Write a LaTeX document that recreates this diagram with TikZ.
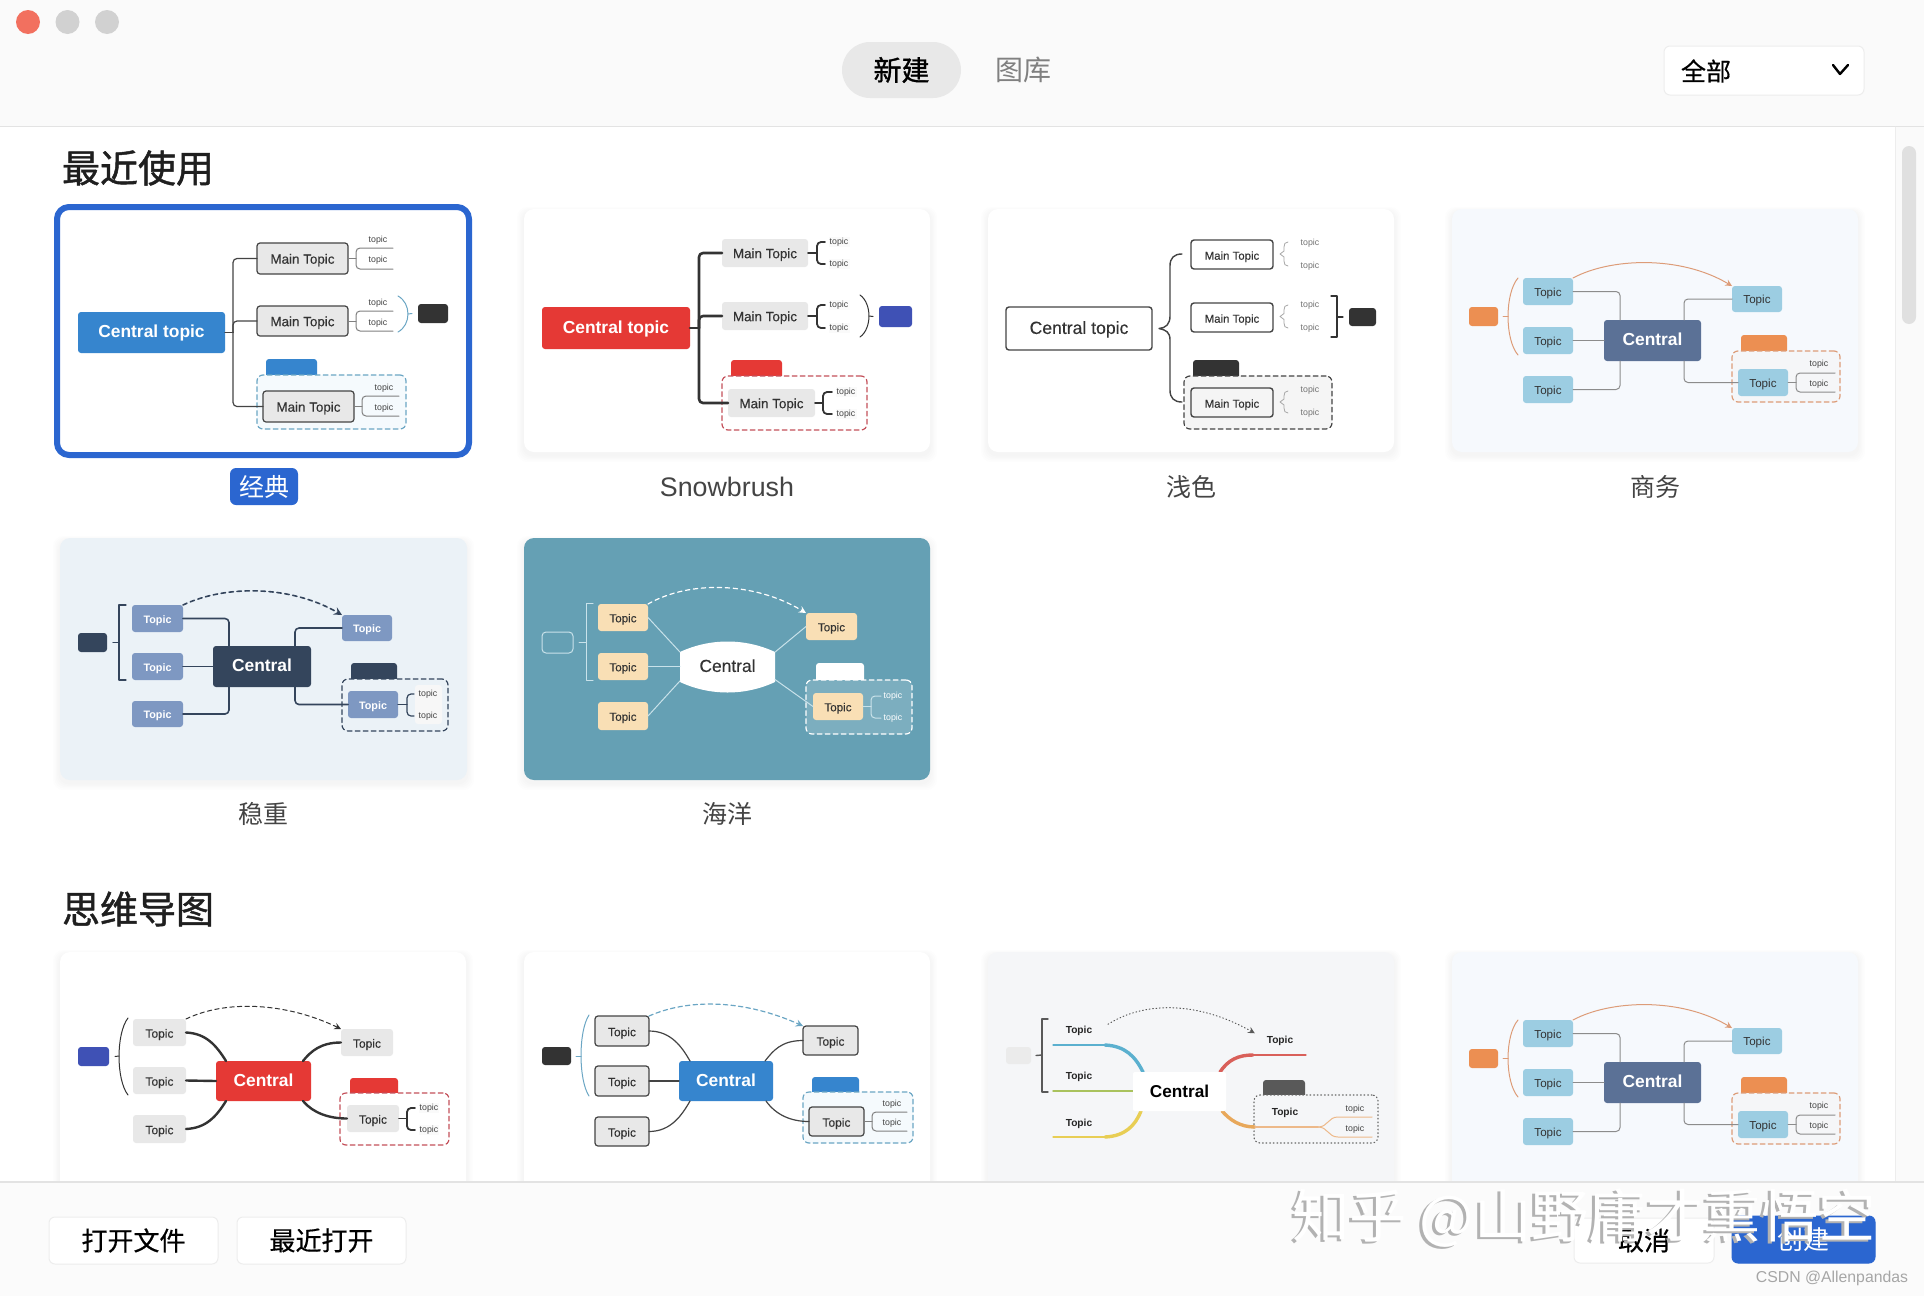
\documentclass[tikz,border=0pt]{standalone}
\usepackage{fontspec}
\setmainfont{Liberation Sans}
\newfontfamily\medf[FakeBold=0.25]{Liberation Sans}
\newfontfamily\cjk{Noto Sans CJK SC}
\newfontfamily\cjkm[FakeBold=0.5]{Noto Sans CJK SC}
\newfontfamily\cjkh[FakeBold=1.2]{Noto Sans CJK SC}
\definecolor{sel}{HTML}{2B66D0}
\definecolor{cblue}{HTML}{3685CE}
\definecolor{cred}{HTML}{E53935}
\definecolor{cind}{HTML}{3F51B5}
\definecolor{cdark}{HTML}{333333}
\definecolor{cnavy}{HTML}{34455C}
\definecolor{cslate}{HTML}{5B7196}
\definecolor{corange}{HTML}{EC8F52}
\definecolor{lorange}{HTML}{DD9C78}
\definecolor{sky}{HTML}{9CCDE2}
\definecolor{peri}{HTML}{7E98C2}
\definecolor{sand}{HTML}{F9DFB5}
\definecolor{sea}{HTML}{65A0B4}
\definecolor{pale}{HTML}{C9E2EA}
\definecolor{grayb}{HTML}{E8E8E8}
\definecolor{lnk}{HTML}{444444}
\definecolor{tealb}{HTML}{6BA6C4}
\definecolor{redb}{HTML}{C4505A}
\definecolor{ice}{HTML}{F5FAFD}
\definecolor{bizbg}{HTML}{F6F9FD}
\definecolor{calm}{HTML}{EBF2F7}
\definecolor{mist}{HTML}{F5F6F8}
\definecolor{wred}{HTML}{F2705F}
\definecolor{brblue}{HTML}{5BB0CF}
\definecolor{brgreen}{HTML}{A9C25D}
\definecolor{bryellow}{HTML}{E8CE55}
\definecolor{brred}{HTML}{D9605A}
\definecolor{brorange}{HTML}{E8A85B}
\definecolor{brthin}{HTML}{EDB98A}
\begin{document}
\begin{tikzpicture}[x=0.5pt,y=-0.5pt,>=stealth,line join=round,line cap=round,
	box/.style={inner sep=0pt,outer sep=0pt,rounded corners=1.5pt},
	ctr/.style={box,text=white,font=\bfseries\fs{8.7},text height=7.4pt,text depth=2pt},
	mtp/.style={box,fill=grayb,text=cdark,font=\medf\fs{6.7},text height=7.2pt,text depth=2pt},
	tpc/.style={box,text=cdark,font=\fs{5.8},text height=6.8pt,text depth=2pt},
	sml/.style={inner sep=0.6pt,outer sep=0pt,text=lnk,font=\fs{4.4}},
	bdy/.style={box,rounded corners=3pt,line width=.6pt,dash pattern=on 2.4pt off 1.6pt},
	lab/.style={text=lnk,font=\cjk\fs{12.5}},
	head/.style={text=black!88,font=\cjkh\fs{19}},
	btn/.style={box,rounded corners=3pt,fill=white,draw=black!7,line width=.5pt}]
	\def\fs#1{\fontsize{#1}{#1}\selectfont}
	% box from its two corners
	\def\bx#1#2#3#4#5#6#7{\pgfmathsetmacro\bw{(#5-#3)*0.5}\pgfmathsetmacro\bh{(#6-#4)*0.5}%
		\node[#1,minimum width=\bw pt,minimum height=\bh pt] (#2) at ({(#3+#5)/2},{(#4+#6)/2}) {#7};}
	\def\card#1#2#3#4#5{\foreach \k in {1,...,5} {\fill[black,opacity=.007,rounded corners=5pt] ({#1-\k*1.4},{#2-\k*1+3}) rectangle ({#3+\k*1.4},{#4+\k*1.4+3});}%
		\fill[#5,rounded corners=5pt] (#1,#2) rectangle (#3,#4);}
	\def\tops#1#2#3#4#5{\node[sml,#5] (#1a) at (#2,#3) {topic}; \node[sml,#5] (#1b) at (#2,#4) {topic};}
	\def\fork#1#2#3#4#5#6{\draw[#1] (#2.east) -- (#2.east -| #3,0); \draw[#1,rounded corners=2pt] (#4,#5) -- (#3,#5) -- (#3,#6) -- (#4,#6);}
	\def\paren#1#2#3#4#5{\pgfmathsetmacro\xc{#2+(#3-#2)*1.33}\draw[#1] (#2,#4) .. controls (\xc,{#4+(#5-#4)*.2}) and (\xc,{#5-(#5-#4)*.2}) .. (#2,#5);}
	\def\sqbr#1#2#3#4#5{\draw[#1] (#2,#4) -- (#3,#4) -- (#3,#5) -- (#2,#5);}
	\def\bizcard#1#2{\begin{scope}[shift={(0,#2)}]
		\bx{box,fill=corange}{s#1}{1469}{307}{1498}{326}{}
		\bx{box,fill=corange}{f#1}{1741}{335}{1787}{358}{}
		\bx{bdy,draw=lorange,fill=mist}{g#1}{1732}{351}{1840}{402}{}
		\bx{box,fill=cslate,ctr}{c#1}{1604}{320}{1701}{361}{Central}
		\bx{tpc,fill=sky}{a#1}{1523}{278}{1573}{305}{Topic}
		\bx{tpc,fill=sky}{b#1}{1523}{327}{1573}{354}{Topic}
		\bx{tpc,fill=sky}{d#1}{1523}{376}{1573}{403}{Topic}
		\bx{tpc,fill=sky}{e#1}{1732}{286}{1782}{312}{Topic}
		\bx{tpc,fill=sky}{h#1}{1738}{369}{1788}{396}{Topic}
		\tops{t#1}{1819}{364}{384}{}
		\fork{black!45,line width=.5pt}{h#1}{1796}{1835}{373}{392}
		\draw[black!45,line width=.5pt,rounded corners=2pt] (a#1.east) -| ([xshift=8pt]c#1.north west);
		\draw[black!45,line width=.5pt] (b#1.east) -- (c#1.west);
		\draw[black!45,line width=.5pt,rounded corners=2pt] (d#1.east) -| ([xshift=8pt]c#1.south west);
		\draw[black!45,line width=.5pt,rounded corners=2pt] (e#1.west) -| ([xshift=-8.5pt]c#1.north east);
		\draw[black!45,line width=.5pt,rounded corners=2pt] ([xshift=-8.5pt]c#1.south east) |- (h#1.west);
		\draw[lorange,line width=.5pt,->] (a#1.north east) .. controls (1610,258) and (1680,255) .. (e#1.north west);
		\paren{lorange,line width=.5pt}{1518}{1508}{278}{355}
		\draw[lorange,line width=.5pt] ([xshift=2.5pt]s#1.east) -- (1508,316.5);
	\end{scope}}
	\useasboundingbox (0,0) rectangle (1924,1296);
	\fill[white] (0,0) rectangle (1924,1296);
	% cards, first row
	\bx{head,anchor=center}{h1}{61}{150}{215}{186}{最近使用}
	\draw[sel,line width=3pt,fill=white,rounded corners=6pt] (57,207) rectangle (469,455);
	\bx{box,fill=cblue}{f1}{266}{359}{317}{382}{}
	\bx{bdy,draw=tealb,fill=ice}{g1}{257}{375}{406}{429}{}
	\bx{ctr,fill=cblue}{c1}{78}{312}{225}{353}{Central topic}
	\bx{mtp,draw=lnk,line width=.6pt}{m11}{257}{243}{348}{274}{Main Topic}
	\bx{mtp,draw=lnk,line width=.6pt}{m12}{257}{306}{348}{336}{Main Topic}
	\bx{mtp,draw=lnk,line width=.6pt}{m13}{263}{391}{354}{422}{Main Topic}
	\draw[lnk,line width=.6pt] (c1.east) -- ++(8,0) coordinate (j1);
	\foreach \m in {m11,m12,m13} \draw[lnk,line width=.6pt,rounded corners=2pt] (j1) |- (\m.west);
	\tops{t11}{378}{240}{260}{} \tops{t12}{378}{303}{323}{} \tops{t13}{384}{388}{408}{}
	\fork{black!50,line width=.5pt}{m11}{356}{393}{248}{269}
	\fork{black!50,line width=.5pt}{m12}{356}{393}{311}{331}
	\fork{black!50,line width=.5pt}{m13}{362}{399}{396}{416}
	\bx{box,fill=cdark}{s1}{418}{304}{448}{323}{}
	\paren{tealb,line width=.5pt}{398}{408}{296}{332}
	\draw[tealb,line width=.5pt] (408,314) -- ([xshift=-3pt]s1.west);
	\bx{box,fill=sel,rounded corners=3pt}{l1}{230}{468}{298}{505}{\textcolor{white}{\cjk\fs{12.5}经典}}

	\card{524}{209}{930}{452}{white}
	\bx{box,fill=cred}{f2}{731}{360}{782}{383}{}
	\bx{bdy,draw=redb,fill=white}{g2}{722}{376}{867}{430}{}
	\bx{ctr,fill=cred}{c2}{542}{307}{690}{349}{Central topic}
	\bx{mtp}{m21}{722}{239}{808}{267}{Main Topic}
	\bx{mtp}{m22}{722}{302}{808}{330}{Main Topic}
	\bx{mtp}{m23}{728}{389}{815}{417}{Main Topic}
	\draw[cdark,line width=1.3pt] (c2.east) -- ++(9,0) coordinate (j2);
	\foreach \m in {m21,m22,m23} \draw[cdark,line width=1.3pt,rounded corners=2pt] (j2) |- (\m.west);
	\tops{t21}{839}{242}{264}{fill=black!2} \tops{t22}{839}{305}{328}{fill=black!2} \tops{t23}{846}{392}{414}{fill=black!2}
	\fork{cdark,line width=.9pt}{m21}{817}{825}{242}{264}
	\fork{cdark,line width=.9pt}{m22}{817}{825}{305}{328}
	\fork{cdark,line width=.9pt}{m23}{823}{832}{392}{414}
	\bx{box,fill=cind}{s2}{879}{306}{912}{327}{}
	\paren{cdark,line width=.5pt}{860}{869}{295}{337}
	\draw[cdark,line width=.5pt] (869,316) -- ([xshift=-3pt]s2.west);
	\node[lab,font=\fs{13.4}] (l2) at (727,487) {Snowbrush};

	\card{988}{209}{1394}{452}{white}
	\bx{box,fill=cdark}{f3}{1193}{360}{1239}{383}{}
	\bx{bdy,draw=lnk,fill=black!4}{g3}{1184}{376}{1332}{429}{}
	\bx{ctr,draw=lnk,line width=.7pt,fill=white,text=cdark,font=\medf\fs{8.8}}{c3}{1006}{307}{1152}{350}{Central topic}
	\bx{mtp,draw=lnk,line width=.7pt,fill=white,font=\medf\fs{5.7}}{m31}{1191}{240}{1273}{269}{Main Topic}
	\bx{mtp,draw=lnk,line width=.7pt,fill=white,font=\medf\fs{5.7}}{m32}{1191}{303}{1273}{332}{Main Topic}
	\bx{mtp,draw=lnk,line width=.7pt,fill=black!4,font=\medf\fs{5.7}}{m33}{1191}{388}{1273}{417}{Main Topic}
	\coordinate (j3) at ([xshift=3.5pt]c3.east);
	\draw[lnk,line width=.7pt] (1182,254) .. controls (1174,254) and (1170,258) .. (1170,266) -- (1170,316) .. controls (1170,324) and (1166,328) .. (j3)
		.. controls (1166,330) and (1170,332) .. (1170,340) -- (1170,390) .. controls (1170,398) and (1174,402) .. (1182,402);
	\tops{t31}{1310}{243}{266}{text=black!55} \tops{t32}{1310}{305}{328}{text=black!55} \tops{t33}{1310}{390}{413}{text=black!55}
	\foreach \ya/\yb/\ym in {242/266/254,305/328/316.5,391/413/402} \draw[black!35,line width=.4pt] (1288,\ya) .. controls (1285,\ya) and (1284,\ya+2) .. (1284,\ya+5) -- (1284,\ym-3) -- (1280,\ym) -- (1284,\ym+3) -- (1284,\yb-5) .. controls (1284,\yb-2) and (1285,\yb) .. (1288,\yb);
	\bx{box,fill=cdark}{s3}{1349}{308}{1376}{326}{}
	\sqbr{cdark,line width=.6pt}{1331}{1337}{296}{337}
	\draw[cdark,line width=.6pt] (1337,317) -- ([xshift=-3pt]s3.west);
	\node[lab] (l3) at (1191,487) {浅色};

	\card{1452}{209}{1858}{452}{bizbg}
	\bizcard{4}{0}
	\node[lab] (l4) at (1655,487) {商务};

	% second row
	\card{60}{538}{467}{780}{calm}
	\bx{box,fill=cnavy}{f5}{351}{663}{397}{686}{}
	\bx{bdy,draw=cnavy,fill=calm}{g5}{342}{679}{448}{731}{}
	\bx{box,fill=black!3}{q5}{415}{685}{442}{724}{}
	\bx{ctr,fill=cnavy}{c5}{213}{646}{311}{687}{Central}
	\bx{tpc,fill=peri,text=white,font=\bfseries\fs{5.4}}{a5}{132}{605}{183}{632}{Topic}
	\bx{tpc,fill=peri,text=white,font=\bfseries\fs{5.4}}{b5}{132}{653}{183}{680}{Topic}
	\bx{tpc,fill=peri,text=white,font=\bfseries\fs{5.4}}{d5}{132}{701}{183}{727}{Topic}
	\bx{tpc,fill=peri,text=white,font=\bfseries\fs{5.4}}{e5}{342}{615}{392}{641}{Topic}
	\bx{tpc,fill=peri,text=white,font=\bfseries\fs{5.4}}{h5}{348}{691}{398}{718}{Topic}
	\tops{t5}{428}{694}{716}{}
	\fork{cnavy,line width=.6pt}{h5}{407}{414}{694}{716}
	\draw[cnavy,line width=.8pt,rounded corners=2pt] (a5.east) -| ([xshift=8pt]c5.north west);
	\draw[cnavy,line width=.8pt] (b5.east) -- (c5.west);
	\draw[cnavy,line width=.8pt,rounded corners=2pt] (d5.east) -| ([xshift=8pt]c5.south west);
	\draw[cnavy,line width=.8pt,rounded corners=2pt] (e5.west) -| ([xshift=-8pt]c5.north east);
	\draw[cnavy,line width=.8pt,rounded corners=2pt] ([xshift=-8pt]c5.south east) |- (h5.west);
	\draw[cnavy,line width=.8pt,dash pattern=on 2.2pt off 1.8pt,->] (a5.north east) .. controls (225,585) and (290,585) .. (e5.north west);
	\bx{box,fill=cnavy}{s5}{78}{633}{107}{652}{}
	\sqbr{cnavy,line width=.6pt}{126}{119}{605}{680}
	\draw[cnavy,line width=.6pt] ([xshift=3pt]s5.east) -- (119,642.5);
	\node[lab] (l5) at (263,814) {稳重};

	\card{524}{538}{930}{780}{sea}
	\bx{box,fill=white}{f6}{816}{663}{864}{686}{}
	\bx{bdy,draw=white,fill=white!15!sea}{g6}{806}{680}{912}{734}{}
	\fill[white] (680,652) .. controls (710,638) and (745,638) .. (775,652) -- (775,682) .. controls (745,696) and (710,696) .. (680,682) -- cycle;
	\bx{box,text=cdark,font=\medf\fs{8.7},text height=7.4pt,text depth=2pt}{c6}{680}{643}{775}{690}{Central}
	\bx{tpc,fill=sand,font=\medf\fs{5.8}}{a6}{598}{604}{648}{631}{Topic}
	\bx{tpc,fill=sand,font=\medf\fs{5.8}}{b6}{598}{653}{648}{680}{Topic}
	\bx{tpc,fill=sand,font=\medf\fs{5.8}}{d6}{598}{702}{648}{730}{Topic}
	\bx{tpc,fill=sand,font=\medf\fs{5.8}}{e6}{806}{613}{857}{640}{Topic}
	\bx{tpc,fill=sand,font=\medf\fs{5.8}}{h6}{813}{693}{863}{720}{Topic}
	\tops{t6}{893}{696}{718}{text=white}
	\fork{pale,line width=.5pt}{h6}{871}{881}{696}{718}
	\draw[pale,line width=.5pt] (a6.east) -- ([yshift=7.2pt]c6.west);
	\draw[pale,line width=.5pt] (b6.east) -- (c6.west);
	\draw[pale,line width=.5pt] (d6.east) -- ([yshift=-7.2pt]c6.west);
	\draw[pale,line width=.5pt] (e6.west) -- ([yshift=7.2pt]c6.east);
	\draw[pale,line width=.5pt] ([yshift=-6.5pt]c6.east) -- (h6.west);
	\draw[white,line width=.6pt,dash pattern=on 2.2pt off 1.8pt,->] (a6.north east) .. controls (690,580) and (755,582) .. (e6.north west);
	\bx{box,draw=pale,line width=.5pt,rounded corners=2pt}{s6}{542}{632}{573}{653}{}
	\sqbr{pale,line width=.5pt}{593}{586}{603}{680}
	\draw[pale,line width=.5pt] ([xshift=3pt]s6.east) -- (586,642.5);
	\node[lab] (l6) at (727,814) {海洋};

	% third row
	\bx{head}{h2}{61}{891}{215}{927}{思维导图}
	\card{60}{952}{466}{1290}{white}
	\bx{box,fill=cred}{f7}{350}{1078}{398}{1100}{}
	\bx{bdy,draw=redb,fill=white}{g7}{340}{1093}{449}{1145}{}
	\bx{ctr,fill=cred}{c7}{216}{1061}{311}{1101}{Central}
	\bx{mtp,font=\medf\fs{6}}{a7}{133}{1019}{186}{1046}{Topic}
	\bx{mtp,font=\medf\fs{6}}{b7}{133}{1067}{186}{1094}{Topic}
	\bx{mtp,font=\medf\fs{6}}{d7}{133}{1115}{186}{1143}{Topic}
	\bx{mtp,font=\medf\fs{6}}{e7}{341}{1029}{393}{1056}{Topic}
	\bx{mtp,font=\medf\fs{6}}{h7}{347}{1105}{399}{1132}{Topic}
	\tops{t7}{429}{1108}{1130}{fill=black!2}
	\fork{cdark,line width=.9pt}{h7}{407}{415}{1108}{1130}
	\draw[cdark,line width=1.2pt] (a7.east) .. controls +(20,1) and +(-10,-16) .. ([xshift=5pt]c7.north west);
	\draw[cdark,line width=1.2pt] (b7.east) -- (c7.west);
	\draw[cdark,line width=1.2pt] (d7.east) .. controls +(20,-1) and +(-10,16) .. ([xshift=5pt]c7.south west);
	\draw[cdark,line width=1.2pt] (e7.west) .. controls +(-20,0) and +(8,-10) .. ([xshift=-4pt]c7.north east);
	\draw[cdark,line width=1.2pt] ([xshift=-4pt]c7.south east) .. controls +(10,12) and +(-18,0) .. (h7.west);
	\draw[cdark,line width=.5pt,dash pattern=on 2.2pt off 1.6pt,->] (a7.north east) .. controls (225,1000) and (285,1002) .. (e7.north west);
	\bx{box,fill=cind}{s7}{78}{1047}{109}{1066}{}
	\paren{cdark,line width=.5pt}{128}{119}{1018}{1095}
	\draw[cdark,line width=.5pt] ([xshift=3pt]s7.east) -- (119,1056);

	\card{524}{952}{930}{1290}{white}
	\bx{box,fill=cblue}{f8}{812}{1077}{859}{1100}{}
	\bx{bdy,draw=tealb,fill=ice}{g8}{803}{1092}{913}{1143}{}
	\bx{ctr,fill=cblue}{c8}{679}{1061}{773}{1101}{Central}
	\foreach \n/\xa/\ya/\xb/\yb in {a8/595/1016/649/1046,b8/595/1066/649/1096,d8/595/1117/649/1146,e8/803/1026/858/1055,h8/809/1107/864/1136}
		{\bx{mtp,draw=lnk,line width=.6pt,font=\medf\fs{6}}{\n}{\xa}{\ya}{\xb}{\yb}{Topic}}
	\tops{t8}{892}{1104}{1123}{}
	\fork{black!50,line width=.5pt}{h8}{872}{907}{1112}{1131}
	\draw[lnk,line width=.6pt] (a8.east) .. controls +(22,0) and +(-8,-14) .. ([xshift=5.5pt]c8.north west);
	\draw[lnk,line width=.6pt] (b8.east) -- (c8.west);
	\draw[lnk,line width=.6pt] (d8.east) .. controls +(22,0) and +(-8,14) .. ([xshift=5.5pt]c8.south west);
	\draw[lnk,line width=.6pt] (e8.west) .. controls +(-22,0) and +(8,-10) .. ([xshift=-4pt]c8.north east);
	\draw[lnk,line width=.6pt] ([xshift=-3.5pt]c8.south east) .. controls +(10,14) and +(-18,0) .. (h8.west);
	\draw[tealb,line width=.6pt,dash pattern=on 2.2pt off 1.6pt,->] (a8.north east) .. controls (690,998) and (745,1000) .. (e8.north west);
	\bx{box,fill=cdark}{s8}{542}{1047}{571}{1065}{}
	\paren{tealb,line width=.5pt}{589}{581}{1015}{1096}
	\draw[tealb,line width=.5pt] ([xshift=2.5pt]s8.east) -- (581,1056);

	\card{988}{952}{1394}{1290}{mist}
	\bx{box,fill=black!65}{f9}{1263}{1080}{1305}{1102}{}
	\bx{bdy,draw=black!60,fill=mist,dash pattern=on .4pt off 1.4pt}{g9}{1254}{1095}{1378}{1143}{}
	\coordinate (p1) at (1053,1045); \coordinate (p2) at (1105,1045);
	\coordinate (p3) at (1053,1091); \coordinate (p4) at (1105,1091);
	\coordinate (p5) at (1053,1137); \coordinate (p6) at (1105,1137);
	\coordinate (p7) at (1306,1055); \coordinate (p8) at (1253,1055);
	\coordinate (p9) at (1255,1127); \coordinate (p10) at (1318,1127);
	\coordinate (p11) at (1338,1117); \coordinate (p12) at (1372,1117);
	\coordinate (p13) at (1338,1137); \coordinate (p14) at (1372,1137);
	\draw[brblue,line width=.6pt] (p1) -- (p2);
	\draw[brblue,line width=1.7pt] (p2) .. controls (1125,1046) and (1135,1056) .. (1143,1072);
	\draw[brgreen,line width=.7pt] (p3) -- (p4);
	\draw[brgreen,line width=1.2pt] (p4) -- (1133,1091);
	\draw[bryellow,line width=.6pt] (p5) -- (p6);
	\draw[bryellow,line width=1.7pt] (p6) .. controls (1125,1136) and (1135,1126) .. (1141,1111);
	\draw[brred,line width=.6pt] (p7) -- (p8);
	\draw[brred,line width=1.7pt] (p8) .. controls (1238,1055) and (1228,1060) .. (1220,1072);
	\draw[brorange,line width=1.7pt] (1222,1111) .. controls (1230,1120) and (1240,1127) .. (p9);
	\draw[brthin,line width=.6pt] (p9) -- (p10);
	\draw[brthin,line width=.5pt] (p10) .. controls (1328,1127) and (1328,1117) .. (p11) -- (p12);
	\draw[brthin,line width=.5pt] (p10) .. controls (1328,1127) and (1328,1137) .. (p13) -- (p14);
	\bx{box,fill=white,rounded corners=1pt,font=\bfseries\fs{8.6},text=black}{c9}{1133}{1072}{1226}{1111}{Central}
	\node[box,text=black!85,font=\bfseries\fs{5.1}] (a9) at (1079,1031) {Topic};
	\node[box,text=black!85,font=\bfseries\fs{5.1}] (b9) at (1079,1077) {Topic};
	\node[box,text=black!85,font=\bfseries\fs{5.1}] (d9) at (1079,1124) {Topic};
	\node[box,text=black!85,font=\bfseries\fs{5.1}] (e9) at (1280,1041) {Topic};
	\node[box,text=black!85,font=\bfseries\fs{5.1}] (h9) at (1285,1113) {Topic};
	\tops{t9}{1355}{1109}{1129}{}
	\draw[black!65,line width=.5pt,dash pattern=on .4pt off 1.3pt,->] ([shift={(14.5pt,1pt)}]a9.north) .. controls (1150,998) and (1205,1005) .. ([shift={(-6pt,1.5pt)}]e9.north west);
	\bx{box,fill=black!8}{s9}{1006}{1047}{1031}{1064}{}
	\sqbr{black!65,line width=.7pt}{1048}{1042}{1019}{1092}
	\draw[black!65,line width=.7pt] ([xshift=2.5pt]s9.east) -- (1042,1055);

	\card{1452}{952}{1858}{1290}{bizbg}
	\bizcard{10}{742}

	% window chrome
	\fill[black!2] (0,0) rectangle (1924,126);
	\draw[black!11,line width=.8pt] (0,126.5) -- (1924,126.5);
	\node[circle,fill=wred,inner sep=0pt,minimum size=12pt] (wr) at (28,22) {};
	\node[circle,fill=black!18,inner sep=0pt,minimum size=12pt] (wg) at (67.5,22) {};
	\node[circle,fill=black!18,inner sep=0pt,minimum size=12pt] (wy) at (107,22) {};
	\bx{box,rounded corners=14pt,fill=grayb,text=black,font=\cjkh\fs{14}}{tnew}{842}{42}{961}{98}{新建}
	\node[text=black!50,font=\cjk\fs{14}] (tlib) at (1023,70) {图库};
	\bx{btn}{drop}{1664}{46}{1864}{95}{}
	\node[text=black,font=\cjkm\fs{12.5}] (dtxt) at (1706,71) {全部};
	\draw[black,line width=1.2pt] (1833,65) -- (1840,74) -- (1848,65);
	% scrollbar
	\fill[black!2] (1895,127) rectangle (1924,1182);
	\draw[black!7,line width=.5pt] (1895,127) -- (1895,1182);
	\fill[black!12,rounded corners=3.5pt] (1902,146) rectangle (1916,324);
	% bottom bar
	\fill[black!1.5] (0,1182) rectangle (1924,1296);
	\draw[black!11,line width=.8pt] (0,1182) -- (1924,1182);
	\bx{btn,font=\cjkm\fs{13},text=black}{bopen}{49}{1217}{218}{1264}{打开文件}
	\bx{btn,font=\cjkm\fs{13},text=black}{brec}{237}{1217}{406}{1264}{最近打开}
	\bx{btn,font=\cjkm\fs{13},text=black}{bcan}{1574}{1218}{1714}{1263}{取消}
	\bx{btn,draw=sel,fill=sel,font=\cjk\fs{13},text=white}{bnew}{1732}{1216}{1875}{1263}{创建}
	\node[text=black!30,font=\cjk\fs{28.7}] (wm1) at (1581,1220) {知乎 @山野庸才熏悟空};
	\node[text=white,font=\cjk\fs{28.7}] (wm2) at (1584,1218) {知乎 @山野庸才熏悟空};
	\node[text=black!35,font=\fs{7.9}] (csdn) at (1832,1278) {CSDN @Allenpandas};
\end{tikzpicture}
\end{document}
